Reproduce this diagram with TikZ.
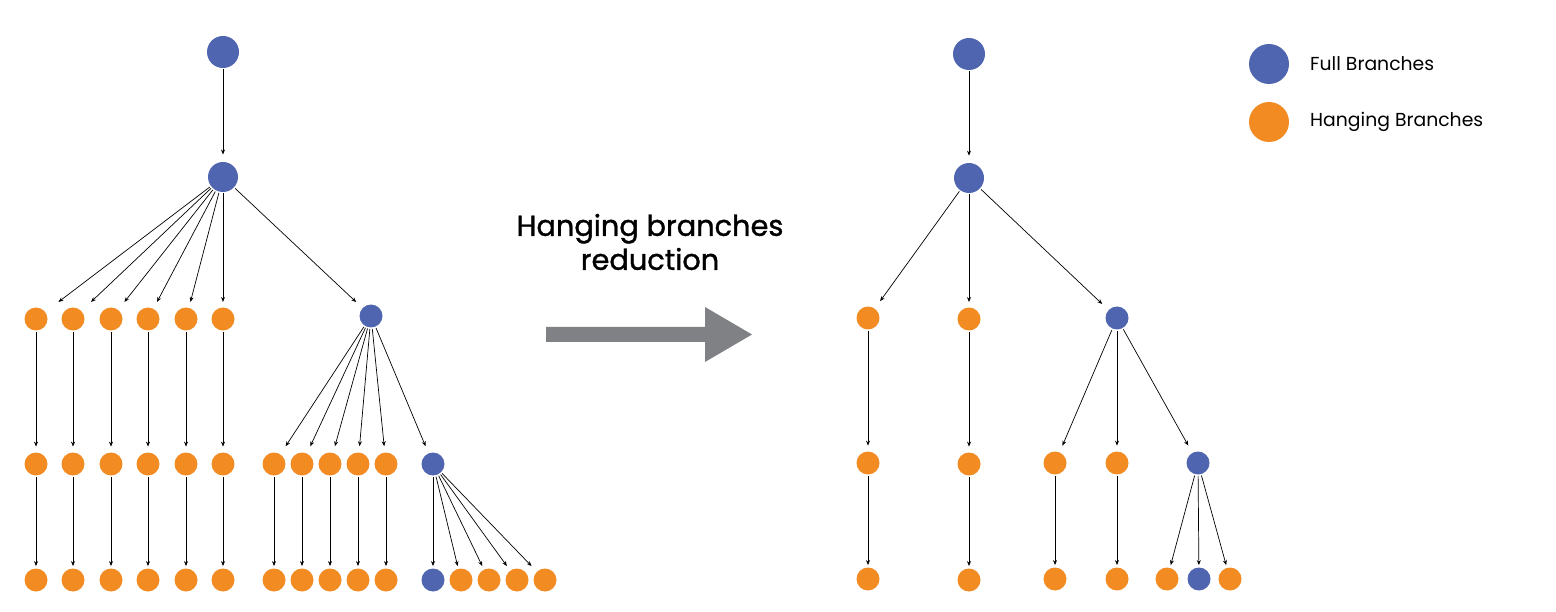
\documentclass[tikz,border=0pt]{standalone}
\usepackage{fontspec}
\setmainfont{Poppins}
\newfontfamily\titlefont[FakeBold=1.2]{Poppins}
\usetikzlibrary{arrows.meta,calc}
\definecolor{fullblue}{RGB}{79,101,175}
\definecolor{hangorange}{RGB}{242,139,34}
\definecolor{arrowgray}{RGB}{128,129,132}
\newcommand\myarr[3][0.88]{\draw[conn] (#2) -- ($(#2)!#1!(#3)$);}
\begin{document}
\begin{tikzpicture}[x=1pt,y=-1pt,
  full/.style={circle,fill=fullblue,inner sep=0pt,minimum size=23pt,outer sep=1.5pt},
  hang/.style={circle,fill=hangorange,inner sep=0pt,minimum size=23pt,outer sep=1.5pt},
  big/.style={minimum size=32pt},
  mid/.style={minimum size=30pt},
  conn/.style={line width=0.7pt,-{Stealth[length=5pt,width=4pt]}},
  legtext/.style={anchor=west,font=\fontsize{18.8}{22}\selectfont,inner sep=0pt}]
\useasboundingbox (0,0) rectangle (1556,612);
% ---------- left tree ----------
\node[full,big] (A) at (223,52) {};
\node[full,mid] (B) at (223,177) {};
\foreach \n/\x in {1/36,2/73,3/111,4/148,5/186,6/223}{
  \node[hang] (o\n) at (\x,319) {};
  \node[hang] (p\n) at (\x,464) {};
  \node[hang] (r\n) at (\x,580) {};
}
\node[full] (C) at (371,316) {};
\foreach \n/\x in {1/274,2/302,3/330,4/358,5/386}{
  \node[hang] (q\n) at (\x,464) {};
  \node[hang] (s\n) at (\x,580) {};
}
\node[full] (D) at (433,464) {};
\node[full] (t0) at (433,580) {};
\foreach \n/\x in {1/461,2/489,3/517,4/545}{
  \node[hang] (t\n) at (\x,580) {};
}
\myarr[0.82]{A}{B}
\foreach \n in {1,...,6}{
  \myarr{B}{o\n}
  \myarr{o\n}{p\n}
  \myarr{p\n}{r\n}
}
\myarr[0.9]{B}{C}
\foreach \n in {1,...,5}{
  \myarr{C}{q\n}
  \myarr{q\n}{s\n}
}
\myarr{C}{D}
\foreach \n in {0,...,4}{
  \myarr{D}{t\n}
}
% ---------- middle ----------
\node[align=center,font=\titlefont\fontsize{28.8}{34}\selectfont,inner sep=0pt] (title) at (650,242) {Hanging branches\\reduction};
\fill[arrowgray] (546,327) -- (705,327) -- (705,307) -- (752,334.5) -- (705,362) -- (705,342) -- (546,342) -- cycle;
% ---------- right tree ----------
\node[full,big] (RA) at (969,54) {};
\node[full,mid] (RB) at (969,178) {};
\node[hang] (RO1) at (868,318) {};
\node[hang] (RO2) at (969,319) {};
\node[full] (RC) at (1117,318) {};
\node[hang] (RP1) at (868,463) {};
\node[hang] (RP2) at (969,464) {};
\node[hang] (RQ1) at (1055,463) {};
\node[hang] (RQ2) at (1117,463) {};
\node[full] (RD) at (1198,463) {};
\node[hang] (RR1) at (868,579) {};
\node[hang] (RR2) at (969,580) {};
\node[hang] (RS1) at (1055,579) {};
\node[hang] (RS2) at (1117,579) {};
\node[hang] (RT1) at (1167,579) {};
\node[full] (RT0) at (1199,579) {};
\node[hang] (RT2) at (1230,579) {};
\myarr[0.82]{RA}{RB}
\myarr{RB}{RO1}
\myarr{RB}{RO2}
\myarr[0.9]{RB}{RC}
\myarr{RO1}{RP1}
\myarr{RO2}{RP2}
\myarr{RP1}{RR1}
\myarr{RP2}{RR2}
\myarr{RC}{RQ1}
\myarr{RC}{RQ2}
\myarr{RC}{RD}
\myarr{RQ1}{RS1}
\myarr{RQ2}{RS2}
\myarr{RD}{RT1}
\myarr{RD}{RT0}
\myarr{RD}{RT2}
% ---------- legend ----------
\node[full,minimum size=40pt] (LF) at (1269,64) {};
\node[hang,minimum size=40pt] (LH) at (1269,122) {};
\node[legtext] (LFt) at (1310,64) {Full Branches};
\node[legtext] (LHt) at (1310,122) {Hanging Branches};
\end{tikzpicture}
\end{document}
